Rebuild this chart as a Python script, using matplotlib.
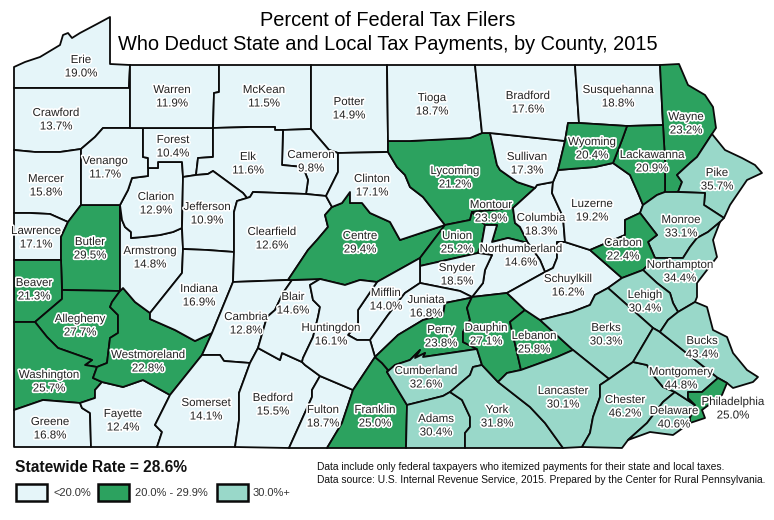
import matplotlib
matplotlib.use("Agg")
import matplotlib.pyplot as plt
import matplotlib.patheffects as pe
from matplotlib.patches import Polygon, Rectangle

plt.rcParams['font.family'] = ['Liberation Sans', 'DejaVu Sans']

TITLE_LINES = [
    "Percent of Federal Tax Filers",
    "Who Deduct State and Local Tax Payments, by County, 2015",
]
STATEWIDE = "Statewide Rate = 28.6%"
NOTES = [
    "Data include only federal taxpayers who itemized payments for their state and local taxes.",
    "Data source: U.S. Internal Revenue Service, 2015. Prepared by the Center for Rural Pennsylvania.",
]

class_labels = ["<20.0%", "20.0% - 29.9%", "30.0%+"]
class_colors = ["#e5f5f9", "#2ca25f", "#99d8c9"]

county_names = [
    "Erie", "Crawford", "Mercer", "Lawrence", "Butler", "Beaver", "Allegheny", "Washington", "Greene",
    "Fayette", "Westmoreland", "Armstrong", "Clarion", "Venango", "Forest", "Warren", "McKean", "Potter",
    "Cameron", "Elk", "Jefferson", "Indiana", "Clearfield", "Cambria", "Somerset", "Bedford", "Fulton",
    "Blair", "Centre", "Clinton", "Lycoming", "Montour", "Union", "Columbia", "Northumberland", "Snyder",
    "Mifflin", "Juniata", "Huntingdon", "Franklin", "Perry", "Cumberland", "Adams", "York", "Dauphin",
    "Lebanon", "Schuylkill", "Luzerne", "Sullivan", "Tioga", "Bradford", "Susquehanna", "Wayne",
    "Lackawanna", "Wyoming", "Pike", "Monroe", "Carbon", "Northampton", "Lehigh", "Berks", "Lancaster",
    "Chester", "Delaware", "Montgomery", "Bucks", "Philadelphia",
]
county_rates = [
    19.0, 13.7, 15.8, 17.1, 29.5, 21.3, 27.7, 25.7, 16.8,
    12.4, 22.8, 14.8, 12.9, 11.7, 10.4, 11.9, 11.5, 14.9,
    9.8, 11.6, 10.9, 16.9, 12.6, 12.8, 14.1, 15.5, 18.7,
    14.6, 29.4, 17.1, 21.2, 23.9, 25.2, 18.3, 14.6, 18.5,
    14.0, 16.8, 16.1, 25.0, 23.8, 32.6, 30.4, 31.8, 27.1,
    25.8, 16.2, 19.2, 17.3, 18.7, 17.6, 18.8, 23.2,
    20.9, 20.4, 35.7, 33.1, 22.4, 34.4, 30.4, 30.3, 30.1,
    46.2, 40.6, 44.8, 43.4, 25.0,
]

# county outlines, in image pixels
outlines = {
    "Erie": [(14,67),(14,88),(129,88),(130,65),(110,64),(110,17),(97,24),(80,33),(72,38),(68,33),(63,35),(60,45),(40,57),(25,62)],
    "Crawford": [(14,88),(129,88),(130,65),(130,128),(103,128),(95,137),(81,149),(60,152),(35,152),(14,150)],
    "Mercer": [(14,150),(35,152),(60,152),(81,149),(81,205),(68,222),(50,214),(30,213),(14,213)],
    "Lawrence": [(14,213),(30,213),(50,214),(68,222),(61,237),(61,260),(14,260)],
    "Butler": [(81,205),(120,205),(120,291),(62,290),(61,260),(61,237),(68,222)],
    "Beaver": [(14,260),(61,260),(62,290),(62,299),(35,322),(14,322)],
    "Allegheny": [(62,290),(120,291),(112,302),(110,307),(118,315),(118,333),(110,338),(107,363),(97,367),(85,365),(92,360),(58,348),(47,337),(35,322),(62,299)],
    "Washington": [(14,322),(35,322),(47,337),(58,348),(92,360),(85,365),(97,367),(93,378),(102,382),(95,390),(95,398),(80,403),(43,400),(14,410)],
    "Greene": [(14,410),(43,400),(80,403),(82,408),(90,413),(91,447),(14,447)],
    "Fayette": [(80,403),(95,398),(95,390),(102,382),(123,387),(143,380),(170,395),(155,425),(162,432),(157,447),(91,447),(90,413),(82,408)],
    "Westmoreland": [(120,291),(123,288),(135,302),(150,313),(150,319),(175,330),(195,341),(212,333),(202,355),(170,395),(143,380),(123,387),(102,382),(93,378),(97,367),(107,363),(110,338),(118,333),(118,315),(110,307),(112,302)],
    "Armstrong": [(120,205),(122,220),(125,227),(131,232),(131,238),(143,237),(160,235),(173,232),(182,228),(183,249),(182,273),(150,313),(135,302),(123,288),(120,291)],
    "Clarion": [(120,205),(128,190),(132,178),(148,176),(148,168),(158,168),(158,162),(182,162),(183,177),(182,228),(173,232),(160,235),(143,237),(131,238),(131,232),(125,227),(122,220)],
    "Venango": [(81,149),(95,137),(103,128),(143,128),(143,157),(148,158),(148,168),(148,176),(132,178),(128,190),(120,205),(81,205)],
    "Forest": [(143,128),(213,128),(213,157),(198,158),(196,175),(183,177),(182,162),(158,162),(158,168),(148,168),(148,158),(143,157)],
    "Warren": [(130,65),(219,65),(219,92),(214,93),(213,128),(143,128),(130,128)],
    "McKean": [(219,65),(311,65),(311,129),(283,130),(275,130),(275,127),(250,127),(213,128),(214,93),(219,92)],
    "Potter": [(311,65),(387,65),(388,141),(388,152),(338,153),(329,150),(311,129)],
    "Cameron": [(283,130),(311,129),(329,150),(338,153),(338,172),(326,196),(306,194),(308,180),(303,167),(282,165)],
    "Elk": [(213,128),(250,127),(275,127),(275,130),(283,130),(282,165),(303,167),(308,180),(306,194),(253,192),(250,197),(247,198),(243,193),(213,171),(208,174),(196,175),(198,158),(213,157)],
    "Jefferson": [(183,177),(196,175),(208,174),(213,171),(243,193),(247,198),(237,201),(234,212),(234,252),(207,250),(183,249),(182,228)],
    "Indiana": [(183,249),(207,250),(234,252),(233,282),(212,333),(195,341),(175,330),(150,319),(150,313),(182,273)],
    "Clearfield": [(253,192),(250,197),(247,198),(237,201),(234,212),(234,252),(233,282),(288,280),(308,250),(317,240),(328,227),(325,215),(332,207),(326,196),(306,194)],
    "Cambria": [(233,282),(288,280),(292,280),(283,293),(275,310),(267,317),(258,348),(250,363),(224,361),(220,355),(202,355),(212,333)],
    "Somerset": [(170,395),(202,355),(220,355),(224,361),(250,363),(239,393),(239,420),(235,447),(157,447),(162,432),(155,425)],
    "Bedford": [(258,348),(280,360),(282,353),(302,362),(305,365),(320,376),(312,390),(312,397),(303,417),(289,448),(235,447),(239,420),(239,393),(250,363)],
    "Fulton": [(320,376),(353,390),(342,423),(327,448),(289,448),(303,417),(312,397),(312,390)],
    "Blair": [(292,280),(320,279),(310,285),(313,300),(320,307),(318,317),(313,337),(303,358),(302,362),(282,353),(280,360),(258,348),(267,317),(275,310),(283,293)],
    "Centre": [(288,280),(308,250),(317,240),(328,227),(325,215),(332,207),(342,203),(350,192),(350,203),(362,203),(370,213),(390,222),(400,240),(445,225),(420,258),(377,282),(360,280),(345,285),(320,279),(292,280)],
    "Clinton": [(338,153),(388,152),(397,167),(405,175),(410,187),(423,197),(445,225),(400,240),(390,222),(370,213),(362,203),(350,203),(350,192),(342,203),(332,207),(326,196),(338,172)],
    "Lycoming": [(388,141),(410,141),(470,138),(482,133),(490,133),(497,165),(500,170),(517,182),(535,188),(513,208),(472,212),(470,220),(445,225),(423,197),(410,187),(405,175),(397,167),(388,152)],
    "Montour": [(513,208),(515,223),(520,227),(528,243),(508,238),(492,242),(497,225),(485,225),(472,212)],
    "Union": [(445,225),(470,220),(472,212),(485,225),(482,242),(478,253),(420,266),(420,258)],
    "Columbia": [(535,188),(537,185),(553,182),(552,193),(563,217),(565,242),(557,242),(557,258),(553,268),(545,272),(540,260),(528,243),(520,227),(515,223),(513,208)],
    "Northumberland": [(485,225),(497,225),(492,242),(508,238),(528,243),(540,260),(545,272),(507,293),(472,297),(483,283),(485,270),(492,255),(478,253),(482,242)],
    "Snyder": [(420,266),(478,253),(492,255),(485,270),(483,283),(472,297),(460,291),(420,283)],
    "Mifflin": [(377,282),(420,258),(420,266),(420,283),(405,293),(388,315),(370,340),(357,340),(348,335),(358,323),(358,310)],
    "Juniata": [(420,283),(460,291),(472,297),(470,298),(445,303),(443,315),(423,320),(398,335),(375,357),(370,340),(388,315),(405,293)],
    "Huntingdon": [(320,279),(345,285),(360,280),(377,282),(358,310),(358,323),(348,335),(357,340),(370,340),(375,357),(353,390),(320,376),(305,365),(302,362),(303,358),(313,337),(318,317),(320,307),(313,300),(310,285)],
    "Franklin": [(375,357),(382,363),(388,370),(387,372),(407,405),(406,448),(327,448),(342,423),(353,390)],
    "Perry": [(470,298),(472,297),(467,308),(470,320),(463,332),(463,342),(477,349),(423,357),(425,353),(415,358),(420,350),(410,360),(395,365),(387,372),(388,370),(382,363),(375,357),(398,335),(423,320),(443,315),(445,303)],
    "Cumberland": [(387,372),(395,365),(410,360),(420,350),(415,358),(425,353),(423,357),(477,349),(482,365),(473,367),(470,375),(450,392),(443,396),(407,405)],
    "Adams": [(407,405),(443,396),(450,392),(462,400),(470,417),(470,427),(465,433),(465,448),(406,448)],
    "York": [(450,392),(470,375),(473,367),(482,365),(498,382),(530,407),(545,423),(563,448),(465,448),(465,433),(470,427),(470,417),(462,400)],
    "Dauphin": [(472,297),(507,293),(525,310),(510,322),(521,370),(507,373),(498,382),(482,365),(477,349),(463,342),(463,332),(470,320),(467,308)],
    "Lebanon": [(525,310),(540,320),(573,350),(557,357),(521,370),(510,322)],
    "Schuylkill": [(507,293),(545,272),(553,268),(557,258),(557,242),(565,242),(590,250),(622,278),(608,288),(595,295),(590,305),(572,312),(540,320),(525,310)],
    "Luzerne": [(558,170),(595,167),(613,163),(630,175),(638,193),(643,205),(640,213),(625,220),(625,235),(590,250),(565,242),(563,217),(552,193),(553,182)],
    "Sullivan": [(490,133),(565,141),(558,170),(553,182),(537,185),(535,188),(517,182),(500,170),(497,165)],
    "Tioga": [(387,65),(475,65),(482,133),(470,138),(410,141),(388,141)],
    "Bradford": [(475,65),(575,65),(579,123),(568,123),(565,141),(490,133),(482,133)],
    "Susquehanna": [(575,65),(660,65),(663,125),(627,126),(579,123)],
    "Wayne": [(660,65),(679,64),(688,85),(705,95),(713,107),(716,128),(712,134),(697,157),(690,163),(677,175),(682,182),(678,192),(667,193),(665,192),(665,160),(663,125)],
    "Lackawanna": [(627,126),(663,125),(665,160),(665,192),(657,195),(643,205),(638,193),(630,175),(613,163),(622,140)],
    "Wyoming": [(568,123),(579,123),(627,126),(622,140),(613,163),(595,167),(558,170),(565,141)],
    "Pike": [(712,134),(725,150),(742,158),(755,165),(762,173),(747,180),(730,205),(724,218),(704,205),(705,193),(678,192),(682,182),(677,175),(690,163),(697,157)],
    "Monroe": [(643,205),(657,195),(665,192),(678,192),(705,193),(704,205),(724,218),(720,222),(708,232),(697,238),(690,247),(683,258),(655,258),(648,242),(657,235),(640,213)],
    "Carbon": [(625,220),(640,213),(657,235),(648,242),(655,258),(643,270),(622,278),(590,250),(625,235)],
    "Northampton": [(655,258),(683,258),(690,247),(697,238),(708,232),(720,222),(713,240),(717,257),(697,283),(697,297),(695,302),(678,312),(673,303),(670,293),(657,283),(643,270)],
    "Lehigh": [(608,288),(622,278),(643,270),(657,283),(670,293),(673,303),(678,312),(668,320),(660,332),(653,328)],
    "Berks": [(540,320),(572,312),(590,305),(595,295),(608,288),(653,328),(633,362),(609,379),(573,350)],
    "Lancaster": [(521,370),(557,357),(573,350),(609,379),(600,385),(600,397),(593,417),(590,433),(582,447),(563,448),(545,423),(530,407),(498,382),(507,373)],
    "Chester": [(600,385),(609,379),(633,362),(647,365),(653,375),(663,387),(675,392),(663,402),(647,423),(628,440),(622,448),(582,447),(590,433),(593,417),(600,397)],
    "Delaware": [(675,392),(695,405),(690,418),(690,423),(673,435),(650,432),(628,440),(647,423),(663,402)],
    "Montgomery": [(653,328),(660,332),(718,378),(702,392),(688,392),(688,398),(695,405),(675,392),(663,387),(653,375),(647,365),(633,362)],
    "Bucks": [(660,332),(668,320),(678,312),(695,302),(707,307),(713,330),(727,337),(733,353),(747,370),(758,377),(753,382),(733,388),(727,383),(718,378)],
    "Philadelphia": [(688,392),(702,392),(718,378),(727,383),(722,395),(702,410),(705,418),(690,423),(690,418),(695,405),(688,398)],
}

# where each county's name sits, same order as county_names
label_x = [
    81, 56, 46, 36, 90, 34, 80, 49, 50,
    123, 148, 150, 156, 105, 173, 172, 264, 349,
    311, 248, 207, 199, 272, 246, 206, 273, 323,
    293, 360, 372, 455, 491, 457, 541, 521, 457,
    386, 426, 331, 375, 441, 426, 436, 497, 486,
    534, 568, 592, 527, 432, 528, 618, 686,
    652, 592, 717, 681, 623, 680, 645, 606, 563,
    625, 674, 681, 702, 733,
]
label_y = [
    60, 113, 179, 231, 242, 283, 319, 375, 422,
    414, 355, 251, 197, 161, 140, 90, 90, 102,
    155, 157, 207, 289, 232, 317, 403, 398, 410,
    297, 236, 179, 171, 205, 236, 218, 249, 268,
    293, 300, 328, 410, 330, 371, 419, 410, 328,
    336, 279, 204, 157, 98, 96, 90, 117,
    155, 142, 173, 220, 243, 265, 295, 328, 391,
    400, 411, 372, 341, 402,
]


def class_color(rate):
    if rate < 20:
        return class_colors[0]
    if rate < 30:
        return class_colors[1]
    return class_colors[2]


fig = plt.figure(figsize=(7.74, 5.2), dpi=100)
ax = fig.add_axes([0, 0, 1, 1])
ax.set_xlim(0, 774)
ax.set_ylim(520, 0)
ax.axis('off')

for name, rate in zip(county_names, county_rates):
    ax.add_patch(Polygon(outlines[name], closed=True, facecolor=class_color(rate), edgecolor='#0a0a0a',
                         linewidth=1.3, joinstyle='round', zorder=2))

halo = [pe.withStroke(linewidth=2.4, foreground='white')]
for name, rate, x, y in zip(county_names, county_rates, label_x, label_y):
    ax.text(x, y, name, fontsize=8.3, color='#222222', ha='center', va='center', path_effects=halo, zorder=4)
    ax.text(x, y + 13.5, f"{rate:.1f}%", fontsize=8.3, color='#222222', ha='center', va='center', path_effects=halo, zorder=4)

for line, y in zip(TITLE_LINES, [21, 45]):
    ax.text(388, y, line, fontsize=14.4, color='black', ha='center', va='center', zorder=5)

ax.text(15, 467, STATEWIDE, fontsize=11.2, fontweight='bold', color='#111111', ha='left', va='center')
for note, y in zip(NOTES, [467, 480]):
    ax.text(317, y, note, fontsize=7.4, color='#111111', ha='left', va='center')

# legend boxes
for color, label, box_x, text_x in zip(class_colors, class_labels, [16, 98, 217], [53, 135, 253]):
    ax.add_patch(Rectangle((box_x, 484), 31, 17, facecolor=color, edgecolor='#0a0a0a', linewidth=1.8))
    ax.text(text_x, 493, label, fontsize=8.0, color='#333333', ha='left', va='center')

fig.savefig('out.png', dpi=100)
